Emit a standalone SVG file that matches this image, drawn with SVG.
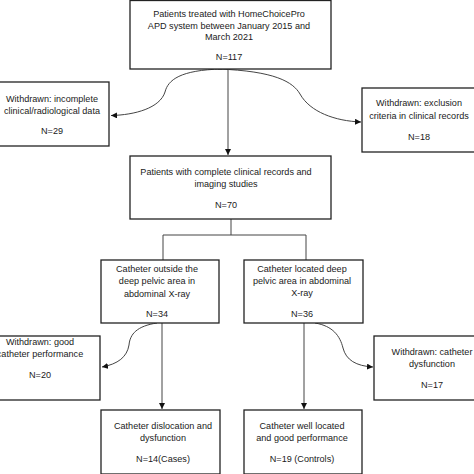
<svg xmlns="http://www.w3.org/2000/svg" width="474" height="474" viewBox="0 0 474 474">
<style>
.box{fill:#fff;stroke:#222;stroke-width:1.3}
.t{font-family:"Liberation Sans",Arial,sans-serif;font-size:9.1px;fill:#1a1a1a;text-anchor:middle}
.c{fill:none;stroke:#444;stroke-width:1}
</style>
<defs>
<marker id="ah" viewBox="0 0 10 10" refX="10" refY="5" markerWidth="6" markerHeight="6" orient="auto" markerUnits="userSpaceOnUse">
<path d="M0,0 L10,5 L0,10 z" fill="#111"/>
</marker>
</defs>
<rect width="474" height="474" fill="#fff"/>
<g id="connectors">
<path class="c" d="M228,69 V155" marker-end="url(#ah)"/>
<path class="c" d="M222,69 C180,70 168,80 165,92 C160,108 135,115 111,115.5" marker-end="url(#ah)"/>
<path class="c" d="M218,69 C275,71 293,82 300,94 C310,112 335,121 361,122" marker-end="url(#ah)"/>
<path class="c" d="M231,219 V235 M163,235 H306 M163,235 V260 M306,235 V260"/>
<path class="c" d="M162,323 V409" marker-end="url(#ah)"/>
<path class="c" d="M304,323 V409" marker-end="url(#ah)"/>
<path class="c" d="M157,323 C137,326 130,334 129,345 C127,357 118,364 102,367" marker-end="url(#ah)"/>
<path class="c" d="M315,323 C333,326 340,336 343,348 C346,360 356,366 373,367" marker-end="url(#ah)"/>
</g>
<g id="n1">
<rect class="box" x="130" y="0.5" width="201" height="68.5"/>
<text class="t" x="229" y="17">Patients treated with HomeChoicePro</text>
<text class="t" x="229" y="29">APD system between January 2015 and</text>
<text class="t" x="229" y="40">March 2021</text>
<text class="t" x="229" y="60">N=117</text>
</g>
<g id="w1">
<rect class="box" x="-10" y="82" width="119" height="64"/>
<text class="t" x="52" y="102">Withdrawn: incomplete</text>
<text class="t" x="52" y="114">clinical/radiological data</text>
<text class="t" x="52" y="134">N=29</text>
</g>
<g id="w2">
<rect class="box" x="362" y="88" width="125" height="64"/>
<text class="t" x="419" y="106">Withdrawn: exclusion</text>
<text class="t" x="419" y="119">criteria in clinical records</text>
<text class="t" x="419" y="140">N=18</text>
</g>
<g id="n2">
<rect class="box" x="130" y="156" width="201" height="63"/>
<text class="t" x="226" y="175">Patients with complete clinical records and</text>
<text class="t" x="226" y="187">imaging studies</text>
<text class="t" x="226" y="208">N=70</text>
</g>
<g id="n3">
<rect class="box" x="101" y="260" width="118" height="63"/>
<text class="t" x="157" y="272">Catheter outside the</text>
<text class="t" x="157" y="284">deep pelvic area in</text>
<text class="t" x="157" y="297">abdominal X-ray</text>
<text class="t" x="157" y="317">N=34</text>
</g>
<g id="n4">
<rect class="box" x="244" y="260" width="119" height="63"/>
<text class="t" x="302" y="272">Catheter located deep</text>
<text class="t" x="302" y="284">pelvic area in abdominal</text>
<text class="t" x="302" y="296">X-ray</text>
<text class="t" x="302" y="317">N=36</text>
</g>
<g id="w3">
<rect class="box" x="-10" y="336" width="110" height="64"/>
<text class="t" x="40" y="345">Withdrawn: good</text>
<text class="t" x="40" y="357">catheter performance</text>
<text class="t" x="40" y="378">N=20</text>
</g>
<g id="w4">
<rect class="box" x="374" y="336" width="120" height="64"/>
<text class="t" x="432" y="355">Withdrawn: catheter</text>
<text class="t" x="432" y="367">dysfunction</text>
<text class="t" x="432" y="388">N=17</text>
</g>
<g id="n5">
<rect class="box" x="101" y="410" width="119" height="64"/>
<text class="t" x="163" y="429">Catheter dislocation and</text>
<text class="t" x="163" y="441">dysfunction</text>
<text class="t" x="163" y="462">N=14(Cases)</text>
</g>
<g id="n6">
<rect class="box" x="244" y="410" width="118" height="64"/>
<text class="t" x="302" y="429">Catheter well located</text>
<text class="t" x="302" y="441">and good performance</text>
<text class="t" x="302" y="462">N=19 (Controls)</text>
</g>
</svg>
